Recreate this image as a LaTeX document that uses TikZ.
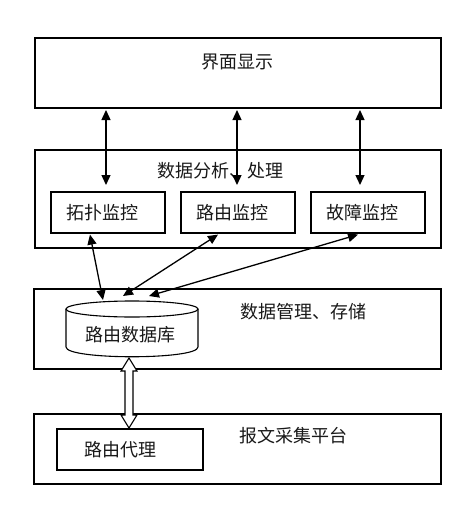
\documentclass[tikz,border=0pt]{standalone}
\usepackage{fontspec}
\newfontfamily\cjk{Noto Sans CJK SC}
\usetikzlibrary{arrows.meta,calc}
\begin{document}
\begin{tikzpicture}[x=1pt,y=-1pt,
  frame/.style={draw=black, line width=1.2pt, inner sep=0pt},
  lbl/.style={font=\cjk\fontsize{18}{20}\selectfont, text=black!90, inner sep=0pt},
  link/.style={line width=1.3pt, {Triangle[width=9pt,length=10pt]}-{Triangle[width=9pt,length=10pt]}},
  hollow/.style={draw=black, line width=1.1pt, fill=white}
]
\fill[white] (0,0) rectangle (474,506);
\useasboundingbox (0,0) rectangle (474,506);

% layer boxes
\node[frame, minimum width=406, minimum height=70] (ui) at (238,73) {};
\node[lbl] (uit) at (237.5,62) {界面显示};

\node[frame, minimum width=406, minimum height=98] (ana) at (238,199) {};
\node[lbl] (anat) at (220,171) {数据分析、处理};
\node[frame, minimum width=114, minimum height=41] (topo) at (108,212.5) {};
\node[lbl] (topot) at (102,213) {拓扑监控};
\node[frame, minimum width=114, minimum height=41] (route) at (238,212.5) {};
\node[lbl] (routet) at (232,213) {路由监控};
\node[frame, minimum width=114, minimum height=41] (fault) at (368,212.5) {};
\node[lbl] (faultt) at (362,213) {故障监控};

\node[frame, minimum width=407, minimum height=80] (mgmt) at (237.5,329) {};
\node[lbl] (mgmtt) at (303,312) {数据管理、存储};

\node[frame, minimum width=407, minimum height=70] (coll) at (237.5,449) {};
\node[lbl] (collt) at (293,436) {报文采集平台};
\node[frame, minimum width=146, minimum height=41] (agent) at (130,449.5) {};
\node[lbl] (agentt) at (120,450) {路由代理};

% database cylinder
\draw[line width=1.1pt] (66,309) -- (66,347) .. controls (66,360) and (198,360) .. (198,347) -- (198,309);
\draw[line width=1.1pt, fill=white] (132,309) ellipse [x radius=66, y radius=8];
\node[lbl] (db) at (130,335) {路由数据库};

% vertical links between UI and analysis
\coordinate (v1t) at (106,110); \coordinate (v1b) at (106,185);
\coordinate (v2t) at (237,110); \coordinate (v2b) at (237,185);
\coordinate (v3t) at (360,110); \coordinate (v3b) at (360,185);
\draw[link] (v1t) -- (v1b);
\draw[link] (v2t) -- (v2b);
\draw[link] (v3t) -- (v3b);

% links between monitors and database
\coordinate (d1a) at (103,300); \coordinate (d1b) at ($(topo.south)+(-18,1)$);
\coordinate (d2a) at (123,296); \coordinate (d2b) at ($(route.south)+(-20,1)$);
\coordinate (d3a) at (149,296); \coordinate (d3b) at ($(fault.south)+(-10,1)$);
\draw[link] (d1a) -- (d1b);
\draw[link] (d2a) -- (d2b);
\draw[link] (d3a) -- (d3b);

% hollow double arrow between database and agent
\coordinate (ht) at (129,358);
\coordinate (hb) at (129,428);
\draw[hollow] (ht) -- ++(8,13) -- ++(-4,0) -- ($(hb)+(4,-13)$) -- ++(4,0) -- (hb)
  -- ++(-8,-13) -- ++(4,0) -- ($(ht)+(-4,13)$) -- ++(-4,0) -- cycle;
\end{tikzpicture}
\end{document}
